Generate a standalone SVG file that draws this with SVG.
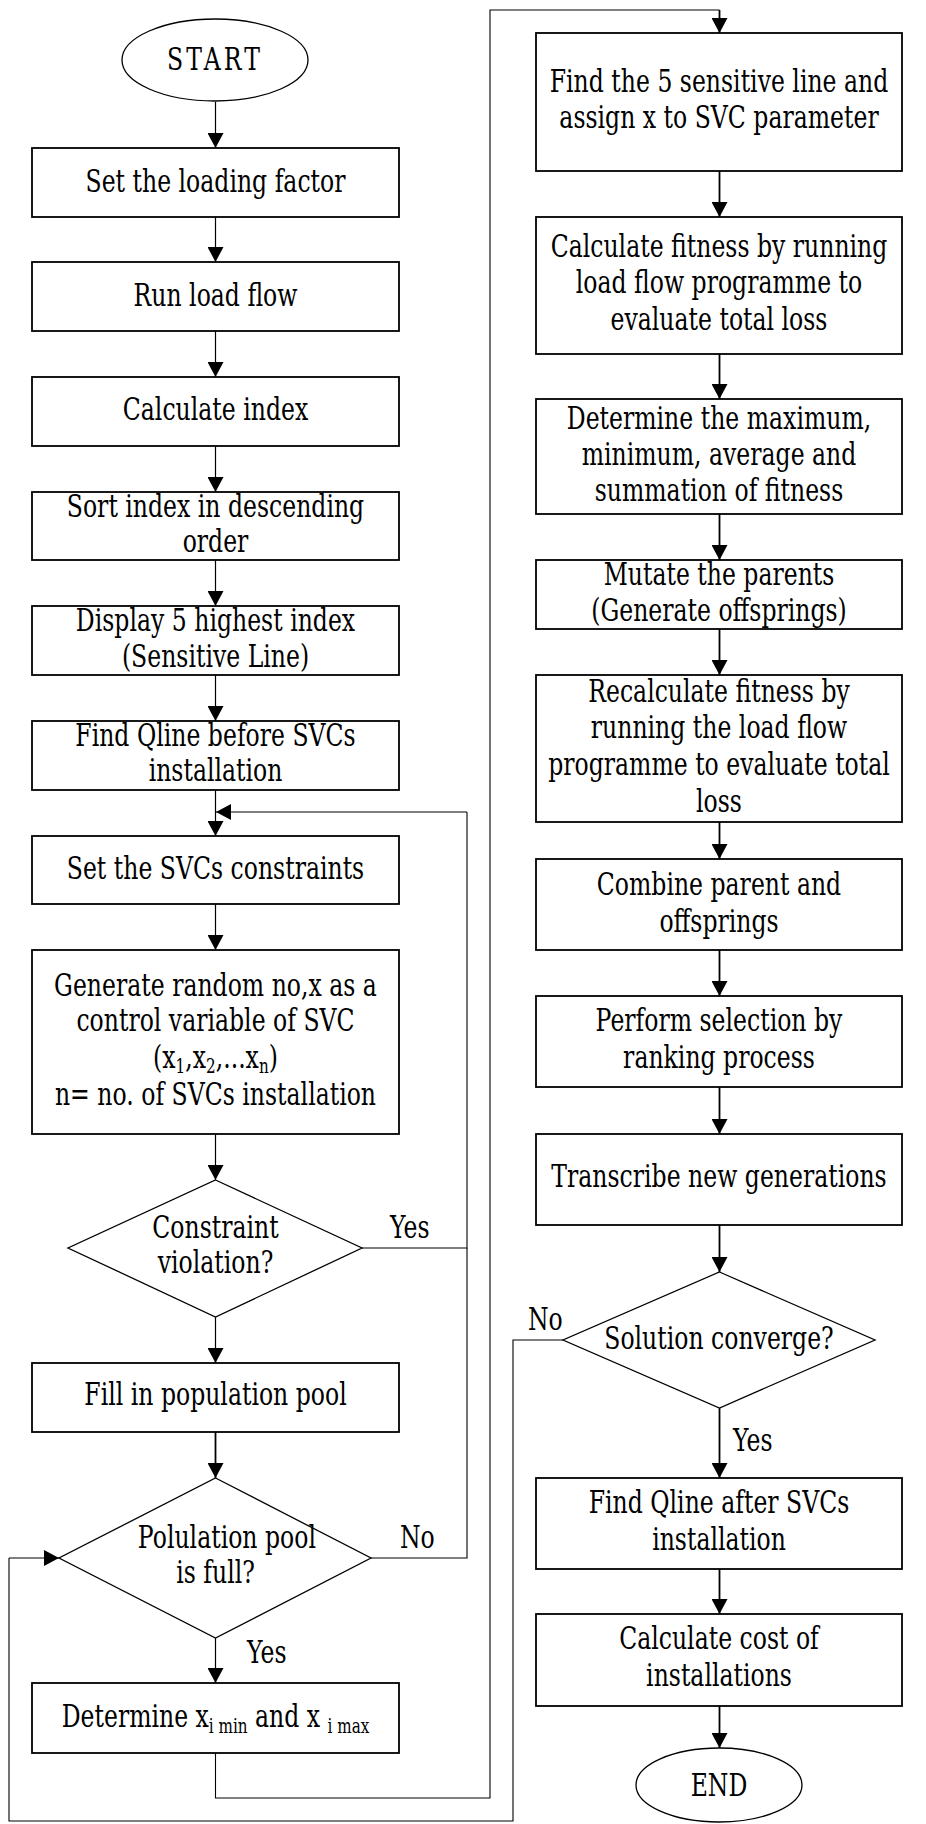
<svg xmlns="http://www.w3.org/2000/svg" width="926" height="1824" viewBox="0 0 926 1824">
<style>
.bx{fill:#fff;stroke:#000;stroke-width:1.8}
.dm{fill:#fff;stroke:#000;stroke-width:1.3}
.t{font-family:"DejaVu Serif","Liberation Serif",serif;font-size:31px;fill:#000;text-anchor:middle}
.lb{font-family:"DejaVu Serif","Liberation Serif",serif;font-size:31px;fill:#000}
.al{fill:none;stroke:#000;stroke-width:1.2;marker-end:url(#ah)}
.ar{fill:none;stroke:#000;stroke-width:1.8;marker-end:url(#ah)}
.lp{fill:none;stroke:#000;stroke-width:1.1}
.sub{font-size:20px}
</style>
<defs>
<marker id="ah" viewBox="0 0 15 16" refX="15" refY="8" markerWidth="15" markerHeight="16" markerUnits="userSpaceOnUse" orient="auto">
<path d="M0,0 L15,8 L0,16 z" fill="#000"/>
</marker>
</defs>
<rect width="926" height="1824" fill="#fff"/>

<g id="connectors">
<path class="al" d="M215.5,102 V148"/>
<path class="al" d="M215.5,217 V262"/>
<path class="al" d="M215.5,331 V377"/>
<path class="al" d="M215.5,446 V492"/>
<path class="al" d="M215.5,560 V606"/>
<path class="al" d="M215.5,675 V721"/>
<path class="al" d="M215.5,790 V836"/>
<path class="al" d="M215.5,904 V950"/>
<path class="al" d="M215.5,1134 V1180"/>
<path class="al" d="M215.5,1317 V1363"/>
<path class="ar" d="M215.5,1432 V1478"/>
<path class="al" d="M215.5,1638 V1683"/>
<path class="lp" d="M362,1248 H467 V812" />
<path class="al" d="M467,812 H216"/>
<path class="lp" d="M371,1558 H467 V1248"/>
<path class="lp" d="M215.5,1753 V1798 H490 V10 H719.5"/>
<path class="ar" d="M719.5,10 V33"/>
<path class="lp" d="M563,1340 H513 V1821 H9 V1558"/>
<path class="al" d="M9,1558 H59"/>
<path class="ar" d="M719.5,171 V217"/>
<path class="ar" d="M719.5,354 V399"/>
<path class="ar" d="M719.5,514 V560"/>
<path class="ar" d="M719.5,629 V675"/>
<path class="ar" d="M719.5,822 V859"/>
<path class="ar" d="M719.5,950 V996"/>
<path class="ar" d="M719.5,1087 V1134"/>
<path class="ar" d="M719.5,1225 V1272"/>
<path class="ar" d="M719.5,1408 V1478"/>
<path class="ar" d="M719.5,1569 V1614"/>
<path class="ar" d="M719.5,1706 V1748"/>
</g>

<g id="start">
<ellipse class="dm" cx="215" cy="60" rx="93" ry="41"/>
<text class="t" transform="matrix(0.76 0 0 1 215 0)" x="0" y="70" letter-spacing="4">START</text>
</g>
<g id="n1">
<rect class="bx" x="32" y="148" width="367" height="69"/>
<text class="t" transform="matrix(0.76 0 0 1 215.5 0)" x="0" y="192">Set the loading factor</text>
</g>
<g id="n2">
<rect class="bx" x="32" y="262" width="367" height="69"/>
<text class="t" transform="matrix(0.76 0 0 1 215.5 0)" x="0" y="306">Run load flow</text>
</g>
<g id="n3">
<rect class="bx" x="32" y="377" width="367" height="69"/>
<text class="t" transform="matrix(0.76 0 0 1 215.5 0)" x="0" y="420">Calculate index</text>
</g>
<g id="n4">
<rect class="bx" x="32" y="492" width="367" height="68"/>
<text class="t" transform="matrix(0.76 0 0 1 215.5 0)"><tspan x="0" y="517">Sort index in descending</tspan><tspan x="0" y="552">order</tspan></text>
</g>
<g id="n5">
<rect class="bx" x="32" y="606" width="367" height="69"/>
<text class="t" transform="matrix(0.76 0 0 1 215.5 0)"><tspan x="0" y="631">Display 5 highest index</tspan><tspan x="0" y="667">(Sensitive Line)</tspan></text>
</g>
<g id="n6">
<rect class="bx" x="32" y="721" width="367" height="69"/>
<text class="t" transform="matrix(0.76 0 0 1 215.5 0)"><tspan x="0" y="746">Find Qline before SVCs</tspan><tspan x="0" y="781">installation</tspan></text>
</g>
<g id="n7">
<rect class="bx" x="32" y="836" width="367" height="68"/>
<text class="t" transform="matrix(0.76 0 0 1 215.5 0)" x="0" y="879">Set the SVCs constraints</text>
</g>
<g id="n8">
<rect class="bx" x="32" y="950" width="367" height="184"/>
<text class="t" transform="matrix(0.76 0 0 1 215.5 0)"><tspan x="0" y="996">Generate random no,x as a</tspan><tspan x="0" y="1031">control variable of SVC</tspan><tspan x="0" y="1068">(x<tspan class="sub" dy="5">1</tspan><tspan dy="-5">,x</tspan><tspan class="sub" dy="5">2</tspan><tspan dy="-5">,...x</tspan><tspan class="sub" dy="5">n</tspan><tspan dy="-5">)</tspan></tspan><tspan x="0" y="1105">n= no. of SVCs installation</tspan></text>
</g>
<g id="d1">
<polygon class="dm" points="215.5,1180 362,1248 215.5,1317 68,1248"/>
<text class="t" transform="matrix(0.76 0 0 1 215.5 0)"><tspan x="0" y="1238">Constraint</tspan><tspan x="0" y="1273">violation?</tspan></text>
<text class="lb" transform="matrix(0.76 0 0 1 390 0)" x="0" y="1238">Yes</text>
</g>
<g id="n9">
<rect class="bx" x="32" y="1363" width="367" height="69"/>
<text class="t" transform="matrix(0.76 0 0 1 215.5 0)" x="0" y="1405">Fill in population pool</text>
</g>
<g id="d2">
<polygon class="dm" points="215.5,1478 371,1558 215.5,1638 59,1558"/>
<text class="t" transform="matrix(0.76 0 0 1 215.5 0)"><tspan x="15" y="1548">Polulation pool</tspan><tspan x="0" y="1583">is full?</tspan></text>
<text class="lb" transform="matrix(0.76 0 0 1 400 0)" x="0" y="1548">No</text>
<text class="lb" transform="matrix(0.76 0 0 1 247 0)" x="0" y="1663">Yes</text>
</g>
<g id="n10">
<rect class="bx" x="32" y="1683" width="367" height="70"/>
<text class="t" transform="matrix(0.76 0 0 1 215.5 0)" x="0" y="1727">Determine x<tspan class="sub" dy="6">i min</tspan><tspan dy="-6"> and x </tspan><tspan class="sub" dy="6">i max</tspan></text>
</g>

<g id="r1">
<rect class="bx" x="536" y="33" width="366" height="138"/>
<text class="t" transform="matrix(0.76 0 0 1 719 0)"><tspan x="0" y="92">Find the 5 sensitive line and</tspan><tspan x="0" y="128">assign x to SVC parameter</tspan></text>
</g>
<g id="r2">
<rect class="bx" x="536" y="217" width="366" height="137"/>
<text class="t" transform="matrix(0.76 0 0 1 719 0)"><tspan x="0" y="257">Calculate fitness by running</tspan><tspan x="0" y="293">load flow programme to</tspan><tspan x="0" y="330">evaluate total loss</tspan></text>
</g>
<g id="r3">
<rect class="bx" x="536" y="399" width="366" height="115"/>
<text class="t" transform="matrix(0.76 0 0 1 719 0)"><tspan x="0" y="429">Determine the maximum,</tspan><tspan x="0" y="465">minimum, average and</tspan><tspan x="0" y="501">summation of fitness</tspan></text>
</g>
<g id="r4">
<rect class="bx" x="536" y="560" width="366" height="69"/>
<text class="t" transform="matrix(0.76 0 0 1 719 0)"><tspan x="0" y="585">Mutate the parents</tspan><tspan x="0" y="621">(Generate offsprings)</tspan></text>
</g>
<g id="r5">
<rect class="bx" x="536" y="675" width="366" height="147"/>
<text class="t" transform="matrix(0.76 0 0 1 719 0)"><tspan x="0" y="702">Recalculate fitness by</tspan><tspan x="0" y="738">running the load flow</tspan><tspan x="0" y="775">programme to evaluate total</tspan><tspan x="0" y="812">loss</tspan></text>
</g>
<g id="r6">
<rect class="bx" x="536" y="859" width="366" height="91"/>
<text class="t" transform="matrix(0.76 0 0 1 719 0)"><tspan x="0" y="895">Combine parent and</tspan><tspan x="0" y="932">offsprings</tspan></text>
</g>
<g id="r7">
<rect class="bx" x="536" y="996" width="366" height="91"/>
<text class="t" transform="matrix(0.76 0 0 1 719 0)"><tspan x="0" y="1031">Perform selection by</tspan><tspan x="0" y="1068">ranking process</tspan></text>
</g>
<g id="r8">
<rect class="bx" x="536" y="1134" width="366" height="91"/>
<text class="t" transform="matrix(0.76 0 0 1 719 0)" x="0" y="1187">Transcribe new generations</text>
</g>
<g id="d3">
<polygon class="dm" points="719.5,1272 875,1340 719.5,1408 563,1340"/>
<text class="t" transform="matrix(0.76 0 0 1 719 0)" x="0" y="1349">Solution converge?</text>
<text class="lb" transform="matrix(0.76 0 0 1 528 0)" x="0" y="1330">No</text>
<text class="lb" transform="matrix(0.76 0 0 1 733 0)" x="0" y="1451">Yes</text>
</g>
<g id="r9">
<rect class="bx" x="536" y="1478" width="366" height="91"/>
<text class="t" transform="matrix(0.76 0 0 1 719 0)"><tspan x="0" y="1513">Find Qline after SVCs</tspan><tspan x="0" y="1550">installation</tspan></text>
</g>
<g id="r10">
<rect class="bx" x="536" y="1614" width="366" height="92"/>
<text class="t" transform="matrix(0.76 0 0 1 719 0)"><tspan x="0" y="1649">Calculate cost of</tspan><tspan x="0" y="1686">installations</tspan></text>
</g>
<g id="end">
<ellipse class="dm" cx="719" cy="1785" rx="83" ry="37"/>
<text class="t" transform="matrix(0.76 0 0 1 719 0)" x="0" y="1796">END</text>
</g>
</svg>
